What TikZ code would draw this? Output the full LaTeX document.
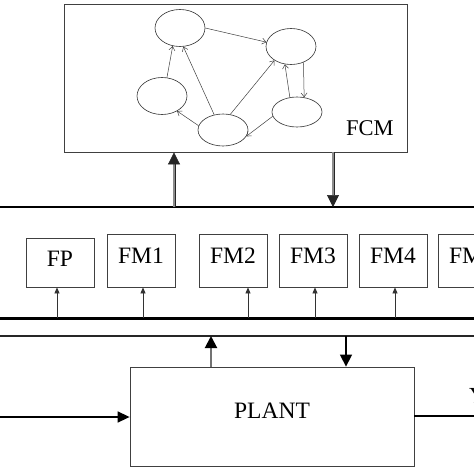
\documentclass[tikz,border=0pt]{standalone}
\usepackage{fontspec}
\setmainfont{Liberation Serif}
\usetikzlibrary{arrows.meta,shapes.geometric}
\begin{document}
\begin{tikzpicture}[x=1pt,y=-1pt,
  box/.style={draw=black!75,line width=0.8pt,inner sep=0pt,font=\fontsize{23.5}{28}\selectfont},
  fmbox/.style={box,minimum width=68pt,minimum height=53pt,text height=16pt,text depth=10pt},
  cell/.style={ellipse,draw=black!80,line width=0.6pt,inner sep=0pt,minimum width=50pt},
  edge/.style={draw=black!75,line width=0.5pt,-{Straight Barb[length=4pt,width=6pt]}},
  smallarr/.style={draw=black!80,line width=0.8pt,-{Triangle[length=6pt,width=5pt]}},
  bigarr/.style={draw=black!85,line width=0.7pt,double=black!45,double distance=1.6pt,-{Triangle[length=12pt,width=12pt]}},
  lowarr/.style={draw=black!55,line width=2pt,-{Triangle[length=12pt,width=12pt,color=black]}},
  band/.style={draw=black,line width=1.4pt}]
\useasboundingbox (0,0) rectangle (474,474);
\fill[white] (0,0) rectangle (474,474);

% FCM block
\node[box,minimum width=343pt,minimum height=148pt] (fcm) at (235.5,78) {};
\node[font=\fontsize{22.5}{26}\selectfont,anchor=west,inner sep=0pt] (fcmlbl) at (346,128) {FCM};

\node[cell,minimum height=37pt] (e1) at (180,28) {};
\node[cell,minimum height=36pt] (e2) at (291,46.5) {};
\node[cell,minimum height=37pt] (e3) at (162,96) {};
\node[cell,minimum height=32pt] (e4) at (223,130) {};
\node[cell,minimum height=30pt] (e5) at (297,112) {};

\draw[edge] (e1.0) -- (e2.170);
\draw[edge] (e3.75) -- (e1.-112);
\draw[edge] (e4.120) -- (e1.-80);
\draw[edge] (e4.65) -- (e2.-140);
\draw[edge] (e4.170) -- (e3.-45);
\draw[edge] (e5.190) -- (e4.-15);
\draw[edge] (e2.-52) -- (e5.64);
\draw[edge] (e5.116) -- (e2.-109);

% band lines
\coordinate (tl) at (0,207);
\coordinate (tr) at (474,207);
\coordinate (bl) at (0,318);
\coordinate (br) at (474,318);
\coordinate (ll) at (0,336);
\coordinate (lr) at (474,336);
\draw[band] (tl) -- (tr);
\draw[draw=black,line width=3pt] (bl) -- (br);
\draw[draw=black!85,line width=1.3pt] (ll) -- (lr);

% FCM arrows
\coordinate (up1) at (174,207);
\coordinate (dn1) at (333,152);
\draw[bigarr] (up1) -- (up1 |- fcm.south);
\draw[bigarr] (dn1) -- (dn1 |- tl);

% module boxes
\node[box,minimum width=68pt,minimum height=49pt,text height=16pt,text depth=8pt] (fp) at (60,262.5) {FP};
\node[fmbox] (fm1) at (141,260.5) {FM1};
\node[fmbox] (fm2) at (233,260.5) {FM2};
\node[fmbox] (fm3) at (313,260.5) {FM3};
\node[fmbox] (fm4) at (393,260.5) {FM4};
\node[fmbox] (fm5) at (472,260.5) {FM5};

\coordinate (s1) at (57,318);
\coordinate (s2) at (143,318);
\coordinate (s3) at (248,318);
\coordinate (s4) at (315,318);
\coordinate (s5) at (395,318);
\draw[smallarr] (s1) -- (s1 |- fp.south);
\draw[smallarr] (s2) -- (s2 |- fm1.south);
\draw[smallarr] (s3) -- (s3 |- fm2.south);
\draw[smallarr] (s4) -- (s4 |- fm3.south);
\draw[smallarr] (s5) -- (s5 |- fm4.south);

% plant
\node[box,minimum width=284pt,minimum height=99pt,text height=16pt,text depth=13pt] (plant) at (272,416.5) {PLANT};
\coordinate (pu) at (211,367);
\coordinate (pd) at (346,336);
\draw[lowarr] (pu) -- (pu |- ll);
\draw[draw=black,line width=1.5pt,-{Triangle[length=12pt,width=12pt]}] (pd) -- (pd |- plant.north);

\coordinate (in) at (0,417);
\coordinate (out) at (474,416);
\draw[draw=black,line width=1.5pt,-{Triangle[length=12pt,width=11pt]}] (in) -- (plant.west |- in);
\draw[draw=black,line width=1.5pt] (plant.east |- out) -- (out);
\node[font=\fontsize{23}{26}\selectfont,anchor=west,inner sep=0pt] (y) at (469,396) {Y};
\end{tikzpicture}
\end{document}
